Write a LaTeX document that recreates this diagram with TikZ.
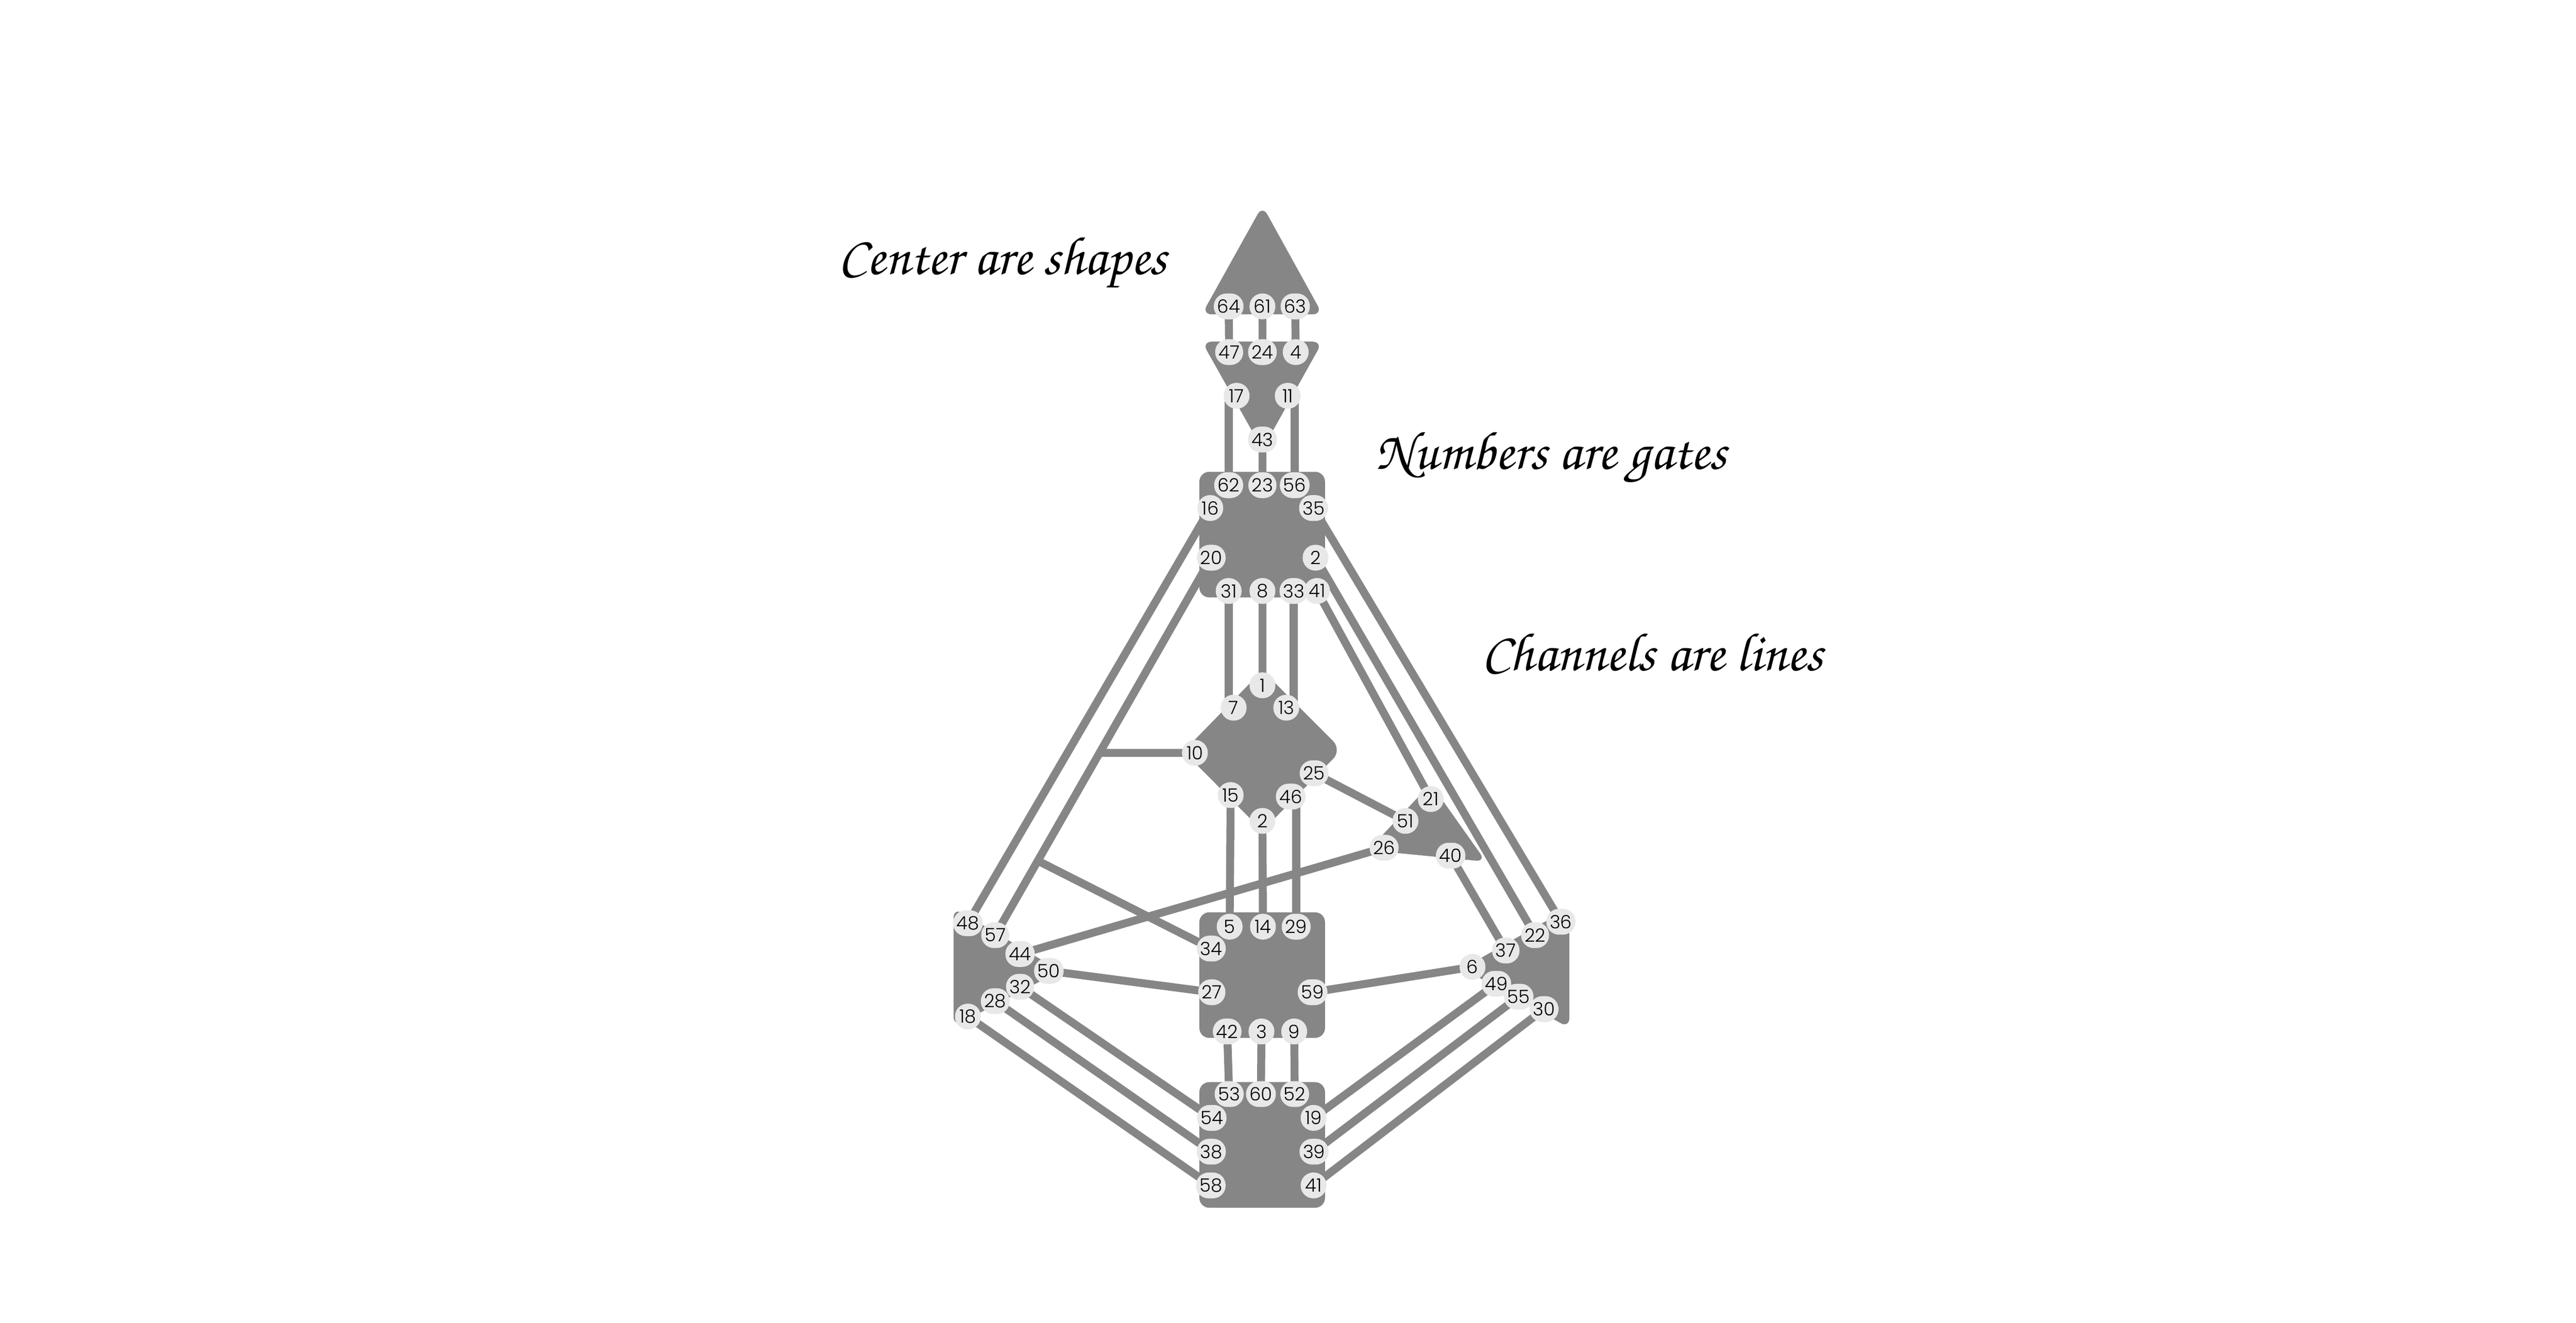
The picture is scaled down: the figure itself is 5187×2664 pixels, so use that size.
\documentclass[tikz,border=0pt]{standalone}
\usepackage[T1]{fontenc}
\usepackage{fontspec}
\usetikzlibrary{calc}
\IfFontExistsTF{Poppins Light}{\newfontfamily\gatefont{Poppins Light}}{\newfontfamily\gatefont{Poppins}}
\newcommand\handfont{\fontencoding{T1}\fontfamily{pzc}\fontseries{mb}\fontshape{it}\selectfont}
\definecolor{centergray}{RGB}{134,134,134}
\definecolor{gatefill}{RGB}{232,232,232}
\pgfdeclarelayer{channels}
\pgfsetlayers{channels,main}

\begin{document}
\begin{tikzpicture}[
 x=0.01cm,
 y=-0.01cm,
 center/.style={fill=centergray,rounded corners=0.2cm},
 gate/.style={fill=gatefill,rectangle,rounded corners=0.255cm,minimum height=0.52cm,minimum width=0.52cm,inner xsep=0.07cm,inner ysep=0pt,font=\gatefont\fontsize{10.5}{10.5}\selectfont},
 channel/.style={draw=centergray,line width=0.16cm},
 note/.style={anchor=base west,inner sep=0pt,font=\handfont\fontsize{31}{33}\selectfont}
]
\useasboundingbox (0,0) rectangle (5187,2664);

% centers
\fill[center] (2542,414) -- (2663,633) -- (2420,633) -- cycle;
\fill[center] (2420,688) -- (2663,688) -- (2542,905) -- cycle;
\fill[center] (2415,950) rectangle (2668,1203);
\fill[center,rounded corners=0.25cm] (2542,1350) -- (2702,1510) -- (2542,1673) -- (2383,1513) -- cycle;
\fill[center] (2881,1578) -- (2992,1735) -- (2755,1712) -- cycle;
\fill[center] (2415,1837) rectangle (2668,2090);
\fill[center] (2415,2179) rectangle (2668,2432);
\fill[center] (1920,1828) -- (2135,1955) -- (1920,2067) -- cycle;
\fill[center] (3160,1828) -- (3160,2070) -- (2945,1950) -- cycle;

% gates
\node (h64) [gate] at (2474,617) {64};
\node (h61) [gate] at (2542,617) {61};
\node (h63) [gate] at (2608,617) {63};
\node (a47) [gate] at (2475,709) {47};
\node (a24) [gate] at (2542,709) {24};
\node (a4) [gate] at (2609,709) {4};
\node (a17) [gate] at (2490,797) {17};
\node (a11) [gate] at (2593,797) {11};
\node (a43) [gate] at (2542,885) {43};
\node (t62) [gate] at (2474,977) {62};
\node (t23) [gate] at (2542,977) {23};
\node (t56) [gate] at (2607,977) {56};
\node (t16) [gate] at (2437,1023) {16};
\node (t35) [gate] at (2645,1023) {35};
\node (t20) [gate] at (2439,1123) {20};
\node (t2) [gate] at (2649,1123) {2};
\node (t31) [gate] at (2474,1190) {31};
\node (t8) [gate] at (2542,1190) {8};
\node (t33) [gate] at (2605,1190) {33};
\node (t41) [gate] at (2652,1190) {41};
\node (g1) [gate] at (2542,1380) {1};
\node (g7) [gate] at (2484,1425) {7};
\node (g13) [gate] at (2590,1425) {13};
\node (g10) [gate] at (2406,1516) {10};
\node (g25) [gate] at (2646,1557) {25};
\node (g15) [gate] at (2478,1601) {15};
\node (g46) [gate] at (2599,1604) {46};
\node (g2) [gate] at (2542,1653) {2};
\node (e21) [gate] at (2881,1609) {21};
\node (e51) [gate] at (2830,1653) {51};
\node (e26) [gate] at (2787,1707) {26};
\node (e40) [gate] at (2921,1723) {40};
\node (s5) [gate] at (2476,1866) {5};
\node (s14) [gate] at (2543,1866) {14};
\node (s29) [gate] at (2610,1866) {29};
\node (s34) [gate] at (2439,1910) {34};
\node (s27) [gate] at (2440,1998) {27};
\node (s59) [gate] at (2643,1998) {59};
\node (s42) [gate] at (2471,2077) {42};
\node (s3) [gate] at (2540,2077) {3};
\node (s9) [gate] at (2606,2077) {9};
\node (r53) [gate] at (2475,2203) {53};
\node (r60) [gate] at (2539,2203) {60};
\node (r52) [gate] at (2607,2203) {52};
\node (r54) [gate] at (2440,2251) {54};
\node (r19) [gate] at (2645,2251) {19};
\node (r38) [gate] at (2439,2319) {38};
\node (r39) [gate] at (2646,2319) {39};
\node (r58) [gate] at (2438,2387) {58};
\node (r41) [gate] at (2645,2387) {41};
\node (sp48) [gate] at (1949,1859) {48};
\node (sp57) [gate] at (2004,1883) {57};
\node (sp44) [gate] at (2054,1921) {44};
\node (sp50) [gate] at (2112,1955) {50};
\node (sp32) [gate] at (2054,1987) {32};
\node (sp28) [gate] at (2004,2016) {28};
\node (sp18) [gate] at (1949,2047) {18};
\node (so36) [gate] at (3143,1856) {36};
\node (so22) [gate] at (3091,1883) {22};
\node (so37) [gate] at (3032,1914) {37};
\node (so6) [gate] at (2965,1947) {6};
\node (so49) [gate] at (3013,1981) {49};
\node (so55) [gate] at (3058,2007) {55};
\node (so30) [gate] at (3109,2032) {30};

\coordinate (j10) at ($(t20)!0.517!(sp57)$);
\coordinate (j34) at ($(t20)!0.803!(sp57)$);

% channels
\begin{pgfonlayer}{channels}
\draw[channel] (h64.center) -- (a47.center);
\draw[channel] (h61.center) -- (a24.center);
\draw[channel] (h63.center) -- (a4.center);
\draw[channel] (t62.center) -- (t62 |- a17);
\draw[channel] (t23.center) -- (a43.center);
\draw[channel] (t56.center) -- (t56 |- a11);
\draw[channel] (t31.center) -- (t31 |- g7);
\draw[channel] (t8.center) -- (g1.center);
\draw[channel] (t33.center) -- (t33 |- g13);
\draw[channel] (t16.center) -- (sp48.center);
\draw[channel] (t20.center) -- (sp57.center);
\draw[channel] (g10.center) -- (j10);
\draw[channel] (s34.center) -- (j34);
\draw[channel] (t35.center) -- (so36.center);
\draw[channel] (t2.center) -- (so22.center);
\draw[channel] (t41.center) -- (e21.center);
\draw[channel] (g25.center) -- (e51.center);
\draw[channel] (g15.center) -- (s5.center);
\draw[channel] (g2.center) -- (s14.center);
\draw[channel] (s29.center) -- (s29 |- g46);
\draw[channel] (e26.center) -- (sp44.center);
\draw[channel] (e40.center) -- (so37.center);
\draw[channel] (s27.center) -- (sp50.center);
\draw[channel] (s59.center) -- (so6.center);
\draw[channel] (s42.center) -- (r53.center);
\draw[channel] (s3.center) -- (r60.center);
\draw[channel] (s9.center) -- (r52.center);
\draw[channel] (sp32.center) -- (r54.center);
\draw[channel] (sp28.center) -- (r38.center);
\draw[channel] (sp18.center) -- (r58.center);
\draw[channel] (so49.center) -- (r19.center);
\draw[channel] (so55.center) -- (r39.center);
\draw[channel] (so30.center) -- (r41.center);
\end{pgfonlayer}

\node (lblcenters) [note] at (1688,552) {Center are shapes};
\node (lblgates) [note] at (2770,945) {Numbers are gates};
\node (lblchannels) [note] at (2983,1350) {Channels are lines};
\end{tikzpicture}
\end{document}
